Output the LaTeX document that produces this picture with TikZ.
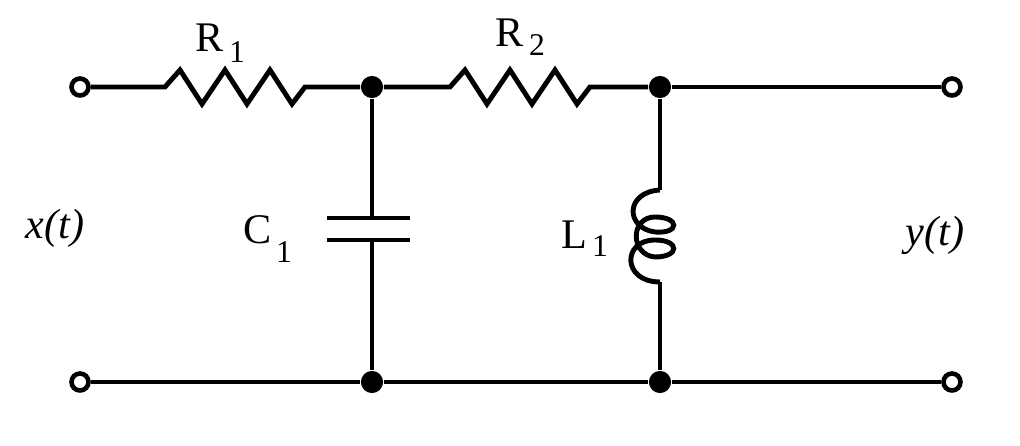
\documentclass[tikz,border=0pt]{standalone}
\usepackage{fontspec}
\setmainfont{Liberation Serif}
\tikzset{
  term/.style={circle,draw,fill=white,line width=1.3pt,inner sep=0pt,minimum size=0.17cm},
  dot/.style={circle,fill=black,inner sep=0pt,minimum size=6.3pt},
  wire/.style={line width=1.4pt},
  lbl/.style={font=\fontsize{12}{14}\selectfont}
}
\begin{document}
\begin{tikzpicture}[x=0.01cm,y=-0.01cm]
  \useasboundingbox (0,0) rectangle (1020,446);
  % terminals and junctions
  \node[term] (inA) at (80,87) {};
  \node[term] (inB) at (80,382) {};
  \node[term] (outA) at (952,87) {};
  \node[term] (outB) at (952,382) {};
  \node[dot] (jA) at (372,87) {};
  \node[dot] (jB) at (372,382) {};
  \node[dot] (kA) at (660,87) {};
  \node[dot] (kB) at (660,382) {};
  \coordinate (r1a) at (165,87);
  \coordinate (r1b) at (305,87);
  \coordinate (r2a) at (450,87);
  \coordinate (r2b) at (590,87);
  \coordinate (c1a) at (372,218);
  \coordinate (c1b) at (372,240);
  \coordinate (l1a) at (660,190);
  \coordinate (l1b) at (660,282);
  % wires
  \draw[wire] (inA) -- (r1a) -- ++(15,-17) -- ++(22,34) -- ++(23,-34) -- ++(22,34)
    -- ++(23,-34) -- ++(22,34) -- (r1b) -- (jA);
  \draw[wire] (jA) -- (r2a) -- ++(15,-17) -- ++(22,34) -- ++(23,-34) -- ++(22,34)
    -- ++(23,-34) -- ++(22,34) -- (r2b) -- (kA);
  \draw[wire] (kA) -- (outA);
  \draw[wire] (inB) -- (jB) -- (kB) -- (outB);
  % capacitor
  \draw[wire] (jA) -- (c1a);
  \draw[wire] (327,218) -- (410,218);
  \draw[wire] (327,240) -- (410,240);
  \draw[wire] (c1b) -- (jB);
  % inductor
  \draw[wire] (kA) -- (l1a);
  \draw[wire] (l1a) .. controls (625,192) and (625,228) .. (655,232)
    .. controls (680,234) and (680,217) .. (655,217)
    .. controls (630,217) and (630,255) .. (655,257)
    .. controls (680,257) and (680,240) .. (655,240)
    .. controls (622,240) and (622,282) .. (l1b);
  \draw[wire] (l1b) -- (kB);
  % labels
  \node[lbl] (lR1) at (210,38) {R};
  \node[font=\fontsize{9}{10}\selectfont] at (237,52) {1};
  \node[lbl] (lR2) at (510,33) {R};
  \node[font=\fontsize{9}{10}\selectfont] at (537,45) {2};
  \node[lbl] (lC1) at (258,230) {C};
  \node[font=\fontsize{9}{10}\selectfont] at (284,252) {1};
  \node[lbl] (lL1) at (574,235) {L};
  \node[font=\fontsize{9}{10}\selectfont] at (600,246) {1};
  \node[lbl,font=\fontsize{12}{14}\selectfont\itshape] (lx) at (55,228) {x(t)};
  \node[lbl,font=\fontsize{12}{14}\selectfont\itshape] (ly) at (935,235) {y(t)};
\end{tikzpicture}
\end{document}
